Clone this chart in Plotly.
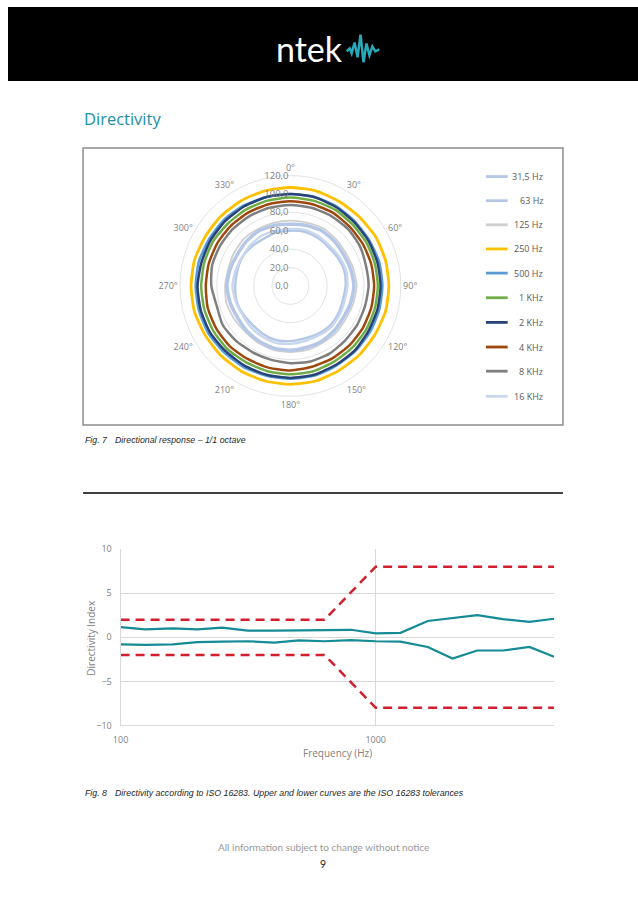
import plotly.graph_objects as go

W, H = 638, 902
def px(x): return x / W
def py(y): return 1 - y / H

# ---------------- Polar data (directional response, 1/1 octave) ----------------
angles = [0, 15, 30, 45, 60, 75, 90, 105, 120, 135, 150, 165, 180,
          195, 210, 225, 240, 255, 270, 285, 300, 315, 330, 345, 360]
bands = ["31,5 Hz", "63 Hz", "125 Hz", "250 Hz", "500 Hz",
         "1 KHz", "2 KHz", "4 KHz", "8 KHz", "16 KHz"]
r_31 = [60, 61, 60, 59, 60, 61, 60, 59, 60, 61, 60, 59, 60, 61, 60, 59, 60, 61, 60, 60, 61, 60, 59, 60, 60]
r_63 = [67, 68, 69, 68, 67, 68, 69, 68, 67, 68, 69, 69, 70, 70, 69, 68, 67, 68, 69, 68, 67, 68, 69, 68, 67]
r_125 = [71, 71, 72, 71, 70, 71, 72, 71, 70, 71, 71, 72, 72, 72, 71, 70, 71, 72, 71, 70, 71, 72, 71, 71, 71]
r_250 = [107, 107, 106, 106, 107, 107, 107, 107, 106, 106, 106, 107, 107, 107, 107, 107, 107, 108, 108, 108, 107, 107, 107, 107, 107]
r_500 = [100, 100, 100, 99, 99, 100, 100, 100, 100, 100, 100, 101, 101, 101, 102, 102, 103, 103, 103, 103, 102, 102, 101, 100, 100]
r_1k = [96, 96, 96, 95, 95, 95, 95, 95, 95, 95, 95, 96, 96, 96, 96, 97, 97, 97, 97, 97, 97, 96, 96, 96, 96]
r_2k = [100, 100, 99, 98, 98, 98, 98, 98, 98, 99, 99, 100, 100, 100, 100, 100, 101, 101, 101, 100, 100, 100, 100, 100, 100]
r_4k = [92, 92, 92, 91, 91, 91, 91, 91, 91, 91, 91, 91, 92, 92, 92, 93, 93, 93, 92, 92, 92, 92, 92, 92, 92]
r_8k = [88, 88, 88, 88, 87, 85, 85, 84, 84, 84, 85, 85, 84, 83, 83, 84, 85, 83, 86, 88, 88, 88, 88, 88, 88]
r_16k = [62, 63, 62, 61, 62, 63, 62, 61, 62, 63, 62, 62, 63, 64, 63, 62, 61, 62, 63, 62, 61, 62, 63, 62, 62]
polar_series = [r_31, r_63, r_125, r_250, r_500, r_1k, r_2k, r_4k, r_8k, r_16k]
polar_colors = ["#b4c7e7", "#b4c7e7", "#cfcfcf", "#ffc000", "#5b9bd5",
                "#70ad47", "#264478", "#9e480e", "#7f7f7f", "#c9d7ee"]
polar_widths = [2.4, 3.5, 1.8, 2.8, 2.5, 2.5, 2.5, 2.5, 2.5, 2.4]
radial_ticks = [0, 20, 40, 60, 80, 100, 120]
radial_text = ["0,0", "20,0", "40,0", "60,0", "80,0", "100,0", "120,0"]
angle_ticks = [0, 30, 60, 90, 120, 150, 180, 210, 240, 270, 300, 330]

# ---------------- Directivity index data ----------------
freq = [100, 125, 160, 200, 250, 315, 400, 500, 630, 800, 1000,
        1250, 1600, 2000, 2500, 3150, 4000, 5000]
di_upper = [1.15, 0.9, 1.0, 0.9, 1.1, 0.75, 0.75, 0.8, 0.85, 0.85, 0.45,
            0.5, 1.85, 2.2, 2.5, 2.05, 1.75, 2.1]
di_lower = [-0.8, -0.85, -0.8, -0.55, -0.5, -0.45, -0.6, -0.35, -0.45, -0.33, -0.45,
            -0.5, -1.1, -2.4, -1.5, -1.5, -1.1, -2.2]
tol_freq = [100, 630, 1000, 5000]
tol_upper = [2, 2, 8, 8]
tol_lower = [-2, -2, -8, -8]
y_ticks = [-10, -5, 0, 5, 10]
x_ticks = [100, 1000]

fig = go.Figure()

# 125 Hz drawn first so the light-blue rings sit on top of it
order = [2, 0, 1, 9, 3, 4, 5, 6, 7, 8]
for i in order:
    fig.add_trace(go.Scatterpolar(r=polar_series[i], theta=angles, mode="lines", name=bands[i],
                                  line=dict(color=polar_colors[i], width=polar_widths[i],
                                            shape="spline", smoothing=0.6),
                                  showlegend=False, subplot="polar"))

TEAL = "#158b95"
RED = "#d11f2e"
fig.add_trace(go.Scatter(x=tol_freq, y=tol_upper, mode="lines",
                         line=dict(color=RED, width=2.5, dash="9px,6px"), showlegend=False))
fig.add_trace(go.Scatter(x=tol_freq, y=tol_lower, mode="lines",
                         line=dict(color=RED, width=2.5, dash="9px,6px"), showlegend=False))
fig.add_trace(go.Scatter(x=freq, y=di_upper, mode="lines",
                         line=dict(color=TEAL, width=2.2), showlegend=False))
fig.add_trace(go.Scatter(x=freq, y=di_lower, mode="lines",
                         line=dict(color=TEAL, width=2.2), showlegend=False))

GRAY_T = "#7f7f7f"
cx, cy, R = 286, 283, 112
fig.update_layout(
    width=W, height=H, autosize=False,
    margin=dict(l=0, r=0, t=0, b=0),
    paper_bgcolor="white", plot_bgcolor="white",
    font=dict(family="Open Sans", color=GRAY_T, size=9),
    polar=dict(
        domain=dict(x=[px(cx - R), px(cx + R)], y=[py(cy + R), py(cy - R)]),
        bgcolor="white",
        angularaxis=dict(direction="clockwise", rotation=90, tickvals=angle_ticks,
                         ticktext=[f"{a}°" for a in angle_ticks], showgrid=False,
                         showline=True, linecolor="#e3e3e3", linewidth=1, ticks="",
                         tickfont=dict(size=9, color=GRAY_T)),
        radialaxis=dict(range=[0, 120], tickvals=radial_ticks, ticktext=radial_text,
                        angle=90, tickangle=90, side="counterclockwise", showline=False,
                        ticks="", gridcolor="#e3e3e3", gridwidth=1,
                        tickfont=dict(size=9.5, color=GRAY_T)),
    ),
    xaxis=dict(type="log", range=[2, 3.69897], domain=[px(114), px(553)],
               tickvals=x_ticks, ticktext=["100", "1000"], showgrid=True,
               gridcolor="#d9d9d9", showline=True, linecolor="#d9d9d9",
               ticks="", ticklabelstandoff=6, zeroline=False,
               tickfont=dict(size=9, color=GRAY_T)),
    yaxis=dict(range=[-10, 10], domain=[py(729), py(550)], tickvals=y_ticks,
               showgrid=True, gridcolor="#d9d9d9", showline=True, linecolor="#d9d9d9",
               zeroline=False, ticks="", ticklabelstandoff=6,
               tickfont=dict(size=9, color=GRAY_T)),
)

shapes = []
# black header band
shapes.append(dict(type="rect", xref="paper", yref="paper", x0=0, x1=1, y0=py(75), y1=1,
                   fillcolor="black", line=dict(width=0), layer="below"))
# logo wave
wave = [(343, 45), (346, 42), (348, 47), (351, 36), (354, 51), (357, 28), (360, 56),
        (363, 37), (366, 49), (369, 40), (372, 45), (376, 43)]
path = "M " + " L ".join(f"{px(x):.5f},{py(y):.5f}" for x, y in wave)
shapes.append(dict(type="path", xref="paper", yref="paper", path=path,
                   line=dict(color="#27a9b9", width=2.5)))
# polar box
shapes.append(dict(type="rect", xref="paper", yref="paper", x0=px(76), x1=px(562),
                   y0=py(424), y1=py(143), line=dict(color="#8c8c8c", width=1.5),
                   fillcolor="rgba(0,0,0,0)", layer="below"))
# separator line
shapes.append(dict(type="line", xref="paper", yref="paper", x0=px(76), x1=px(562),
                   y0=py(493), y1=py(493), line=dict(color="black", width=1.5)))
# custom legend lines
leg_y = [172, 196.5, 221, 245.5, 270, 295, 320, 345, 369.5, 395]
for yy, c in zip(leg_y, polar_colors):
    shapes.append(dict(type="line", xref="paper", yref="paper", x0=px(484), x1=px(506),
                       y0=py(yy), y1=py(yy), line=dict(color=c, width=2.8)))

ann = []
def A(text, x, y, size, color, xanchor="left", family="Open Sans", **kw):
    ann.append(dict(text=text, x=px(x), y=py(y), xref="paper", yref="paper",
                    showarrow=False, xanchor=xanchor, yanchor="middle",
                    font=dict(size=size, color=color, family=family), **kw))

A("ntek", 305, 42, 34, "white", xanchor="center", family="Lato")
A("Directivity", 75, 113, 16.5, "#1b8fa6")
for yy, name in zip(leg_y, bands):
    A(name, 544, yy, 9, "#595959", xanchor="right")
CAP = "Liberation Sans"
A("<i>Fig. 7</i>", 76, 439, 8.8, "#1f1f1f", family=CAP)
A("<i>Directional response – 1/1 octave</i>", 106, 439, 8.8, "#1f1f1f", family=CAP)
A("<i>Fig. 8</i>", 76, 797, 8.8, "#1f1f1f", family=CAP)
A("<i>Directivity according to ISO 16283. Upper and lower curves are the ISO 16283 tolerances</i>",
  106, 797, 8.8, "#1f1f1f", family=CAP)
A("Frequency (Hz)", 334, 757, 10, GRAY_T, xanchor="center")
A("Directivity Index", 84, 640, 10, GRAY_T, xanchor="center", textangle=-90)
A("All information subject to change without notice", 319, 852, 10, "#9a9a9a",
  xanchor="center", family="Lato")
A("9", 319, 870, 10.5, "#222222", xanchor="center", family="Lato")

fig.update_layout(shapes=shapes, annotations=ann)
fig.write_html("out.html", config={"displayModeBar": False},
               post_script="document.body.style.margin='0';")
